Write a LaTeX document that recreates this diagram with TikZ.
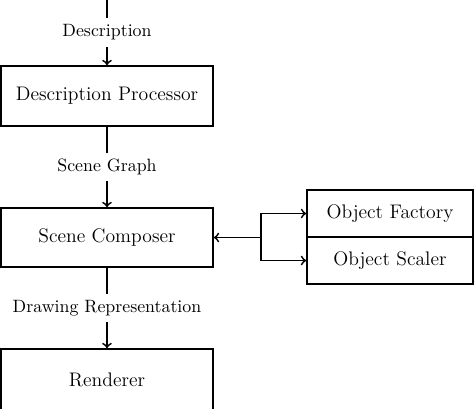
\documentclass[tikz,border=0pt]{standalone}
\newdimen\pxu
\pxu=0.5605pt
\tikzset{
  box/.style={draw, line width=1pt, minimum width={212*\pxu}, inner sep=0pt, font=\fontsize{11}{13}\selectfont},
  sbox/.style={draw, line width=1pt, minimum width={166*\pxu}, minimum height={47*\pxu}, inner sep=0pt, font=\fontsize{11}{13}\selectfont},
  arr/.style={->, line width=1pt},
  lbl/.style={fill=white, font=\fontsize{10}{12}\selectfont, inner sep=3.5pt}
}
\begin{document}
\begin{tikzpicture}[x=0.5605pt, y=-0.5605pt]
\useasboundingbox (0,0) rectangle (474,408);
\node[box, minimum height={60*\pxu}] (dp) at (107,96) {Description Processor};
\node[box, minimum height={59*\pxu}] (sc) at (107,237.5) {Scene Composer};
\node[box, minimum height={62*\pxu}] (rd) at (107,380) {Renderer};
\node[sbox] (of) at (390,213.5) {Object Factory};
\node[sbox] (os) at (390,260.5) {Object Scaler};
\coordinate (top) at (107,0);
\coordinate (br) at (261,237.5);
\draw[arr] (top) -- node[lbl]{Description} (dp);
\draw[arr] (dp) -- node[lbl]{Scene Graph} (sc);
\draw[arr] (sc) -- node[lbl]{Drawing Representation} (rd);
\draw[arr] (br) -- (sc.east);
\draw[arr] (br) |- (of.west);
\draw[arr] (br) |- (os.west);
\end{tikzpicture}
\end{document}
